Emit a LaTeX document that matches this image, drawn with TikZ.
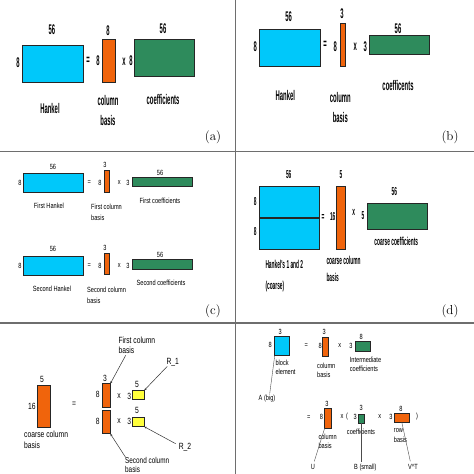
\documentclass[tikz,border=0pt]{standalone}
\usepackage{fontspec}
\newfontfamily\nara[FakeStretch=0.42]{Liberation Sans}
\newfontfamily\narc[FakeStretch=0.75]{Liberation Sans}
\usetikzlibrary{fit,arrows.meta}
\definecolor{hcyan}{RGB}{0,200,250}
\definecolor{horange}{RGB}{240,100,12}
\definecolor{hgreen}{RGB}{46,139,92}
\definecolor{hyellow}{RGB}{255,255,60}
\definecolor{divgray}{RGB}{110,110,110}
\newcommand{\hbx}[6]{\node[#2, fit={(#3,#4) (#5,#6)}] (#1) {};}
\begin{document}
\begin{tikzpicture}[x=1pt,y=-1pt,
  bx/.style={draw=black!85, line width=0.8pt, inner sep=0pt, outer sep=0pt},
  hk/.style={bx, fill=hcyan},
  cb/.style={bx, fill=horange},
  cf/.style={bx, fill=hgreen},
  rr/.style={bx, fill=hyellow},
  ta/.style={inner sep=0pt, font=\nara\bfseries\fontsize{14}{20}\selectfont},
  tal/.style={inner sep=0pt, font=\nara\bfseries\fontsize{14}{20}\selectfont},
  tc/.style={inner sep=0pt, font=\narc\fontsize{7.5}{11}\selectfont},
  td/.style={inner sep=0pt, font=\nara\bfseries\fontsize{11.5}{17}\selectfont},
  te/.style={inner sep=0pt, font=\narc\fontsize{9}{10.5}\selectfont},
  tf/.style={inner sep=0pt, font=\narc\fontsize{7.5}{9.5}\selectfont},
  tag/.style={inner sep=0pt, font=\fontsize{13}{13}\selectfont},
  lead/.style={draw=black!80, line width=0.5pt, -{Stealth[length=2.5pt,width=2pt]}},
  leadf/.style={draw=black!70, line width=0.4pt},
  divider/.style={draw=divgray, line width=1.1pt}
]
\useasboundingbox (0,0) rectangle (474,474);
\fill[white] (0,0) rectangle (474,474);
% dividers
\coordinate (vt) at (235.7,0); \coordinate (vb) at (235.7,474);
\coordinate (h1l) at (0,151.3); \coordinate (h1r) at (474,151.3);
\coordinate (h2l) at (0,323); \coordinate (h2r) at (474,323);
\draw[divider] (vt) -- (vb);
\draw[divider] (h1l) -- (h1r);
\draw[divider] (h2l) -- (h2r);

% ---------------- (a)
\hbx{aH}{hk}{22.7}{45.3}{83}{82.3}
\hbx{aC}{cb}{102.3}{39}{115.7}{82.7}
\hbx{aF}{cf}{134.7}{39}{194.3}{76.7}
\node[ta] (aN1) at (52,30) {56};
\node[ta] (aM1) at (18,63) {8};
\node[ta] (aEq) at (88,61) {=};
\node[ta] (aM2) at (98,61) {8};
\node[ta] (aN2) at (108,31) {8};
\node[ta] (aX) at (124,62) {x};
\node[ta] (aM3) at (131,61) {8};
\node[ta] (aN3) at (163,29) {56};
\node[tal] (aL1) at (50,108) {Hankel};
\node[tal, align=center] (aL2) at (108,110) {column\\basis};
\node[tal] (aL3) at (163,99) {coefficients};
\node[tag] (aT) at (213,137) {(a)};

% ---------------- (b)
\hbx{bH}{hk}{259.7}{29}{320}{66.7}
\hbx{bC}{cb}{340.7}{23.3}{345.7}{66.7}
\hbx{bF}{cf}{369.7}{35.3}{429.7}{54.3}
\node[ta] (bN1) at (288.7,17) {56};
\node[ta] (bM1) at (255.3,47) {8};
\node[ta] (bEq) at (325,45) {=};
\node[ta] (bM2) at (335.3,47) {8};
\node[ta] (bN2) at (342,14) {3};
\node[ta] (bX) at (355.3,47) {x};
\node[ta] (bM3) at (365.3,47) {3};
\node[ta] (bN3) at (398,29) {56};
\node[tal] (bL1) at (285.3,95) {Hankel};
\node[tal, align=center] (bL2) at (340.3,107) {column\\basis};
\node[tal] (bL3) at (398,85) {coefficents};
\node[tag] (bT) at (450,137) {(b)};

% ---------------- (c) top
\hbx{cH1}{hk}{23.3}{173.7}{83.7}{192}
\hbx{cC1}{cb}{104}{170.7}{109.3}{192}
\hbx{cF1}{cf}{132.3}{177.3}{192.3}{186}
\node[tc] (cN1) at (53,166.7) {56};
\node[tc] (cM1) at (20,183) {8};
\node[tc] (cEq1) at (89.3,183) {=};
\node[tc] (cM2) at (100,183) {8};
\node[tc] (cN2) at (105,164.5) {3};
\node[tc] (cX1) at (119.3,183) {x};
\node[tc] (cM3) at (128,183) {3};
\node[tc] (cN3) at (160,173.3) {56};
\node[tc] (cL1) at (49,206) {First Hankel};
\node[tc, align=left, anchor=west] (cL2) at (91,212.8) {First column\\basis};
\node[tc] (cL3) at (160,200.7) {First coefficients};
% (c) bottom
\hbx{cH2}{hk}{23.3}{256.7}{83.7}{275}
\hbx{cC2}{cb}{104}{253.3}{109.3}{274.7}
\hbx{cF2}{cf}{132.3}{259.3}{192.3}{269}
\node[tc] (cN4) at (53,249.3) {56};
\node[tc] (cM4) at (20,266) {8};
\node[tc] (cEq2) at (89.3,266) {=};
\node[tc] (cM5) at (100,266) {8};
\node[tc] (cN5) at (105,247.7) {3};
\node[tc] (cX2) at (119.3,266) {x};
\node[tc] (cM6) at (128,266) {3};
\node[tc] (cN6) at (160,255) {56};
\node[tc] (cL4) at (52,288.7) {Second Hankel};
\node[tc, align=left, anchor=west] (cL5) at (87,295.5) {Second column\\basis};
\node[tc] (cL6) at (161,283.3) {Second coefficients};
\node[tag] (cT) at (213,311.7) {(c)};

% ---------------- (d)
\hbx{dH1}{hk}{259}{186.7}{319}{217.3}
\hbx{dH2}{hk}{259}{218.7}{319}{249.3}
\hbx{dC}{cb}{336.3}{186.7}{345.7}{249.3}
\hbx{dF}{cf}{367}{203.7}{427}{229}
\node[td] (dN1) at (288.7,175) {56};
\node[td] (dM1) at (255.3,201.7) {8};
\node[td] (dM2) at (255.3,231.7) {8};
\node[td] (dEq) at (323,217.3) {=};
\node[td] (dM3) at (332.7,217) {16};
\node[td] (dN2) at (341,175) {5};
\node[td] (dX) at (353.7,212.3) {x};
\node[td] (dM4) at (363,215.7) {5};
\node[td] (dN3) at (394.3,191.7) {56};
\node[td] (dL3) at (396.3,241.7) {coarse coefficients};
\node[td, align=left, anchor=west] (dL2) at (326.3,269.3) {coarse column\\basis};
\node[td, align=left, anchor=west, font=\nara\bfseries\fontsize{11.5}{20.7}\selectfont] (dL1) at (265.3,276.3) {Hankel's 1 and 2\\(coarse)};
\node[tag] (dT) at (450,311.7) {(d)};

% ---------------- (e)
\hbx{eB}{cb}{37.7}{385.7}{50.7}{427}
\node[te] (eN1) at (42,379) {5};
\node[te] (eM1) at (32,406.3) {16};
\node[te, align=left, anchor=west] (eL1) at (24,439.7) {coarse column\\basis};
\node[te] (eEq) at (74,404.7) {=};
\hbx{eC1}{cb}{102.3}{383.7}{110.3}{407}
\hbx{eC2}{cb}{102.3}{410.3}{110.3}{433.7}
\node[te] (eN2) at (105,378.7) {3};
\node[te] (eM2) at (97.7,394.7) {8};
\node[te] (eM3) at (97.7,421.3) {8};
\node[te] (eX1) at (119,396.3) {x};
\node[te] (eX2) at (119,421.3) {x};
\node[te] (eM4) at (129.3,396) {3};
\node[te] (eM5) at (129.3,421) {3};
\hbx{eR1}{rr}{132.3}{390.3}{144.3}{399.7}
\hbx{eR2}{rr}{132.3}{417}{144.3}{426.7}
\node[te] (eN3) at (137,384) {5};
\node[te] (eN4) at (137,410.3) {5};
\node[te, align=left, anchor=west] (eL2) at (118.3,345.5) {First column\\basis};
\node[te] (eL3) at (172.7,362.3) {R\_1};
\node[te] (eL4) at (185,447.3) {R\_2};
\node[te, align=left, anchor=west, font=\narc\fontsize{8.5}{9}\selectfont] (eL5) at (125,464.5) {Second column\\basis};
\coordinate (eS2) at (125.7,355.3);
\coordinate (eS3) at (167.3,366.3);
\coordinate (eS4) at (175.7,443.7);
\coordinate (eS5) at (125.7,457.5);
\draw[lead] (eS2) -- (eC1.north east);
\draw[lead] (eS3) -- (eR1.north east);
\draw[lead] (eS4) -- (eR2.south east);
\draw[lead] (eS5) -- (eC2.south east);

% ---------------- (f)
\hbx{fA}{hk}{274.7}{336.3}{289.3}{355.7}
\hbx{fC}{cb}{322.7}{337}{328.7}{356.3}
\hbx{fF}{cf}{355.7}{341.3}{370.3}{351.3}
\node[tf] (fN1) at (280.3,331.5) {3};
\node[tf] (fM1) at (270.3,345.3) {8};
\node[tf] (fEq1) at (306.3,346) {=};
\node[tf] (fN2) at (324.3,331.5) {3};
\node[tf] (fM2) at (320.3,346) {8};
\node[tf] (fX1) at (339.7,346) {x};
\node[tf] (fM3) at (351,346) {3};
\node[tf] (fN3) at (361.3,336.5) {8};
\node[tf, align=left, anchor=west] (fL1) at (275.3,367.5) {block\\element};
\node[tf, align=left, anchor=west] (fL2) at (317,370.3) {column\\basis};
\node[tf, align=left, anchor=west] (fL3) at (349.7,364.2) {Intermediate\\coefficients};
\node[tf] (fL4) at (267,399) {A (big)};
\coordinate (fS4) at (269.7,393.7);
\draw[leadf] (fS4) -- (fA.south west);
% row 2
\node[tf] (fEq2) at (308.7,417.3) {=};
\hbx{fU}{cb}{324.7}{408.3}{331.3}{428}
\node[tf] (fM4) at (321.5,417) {8};
\node[tf] (fN4) at (327,403.5) {3};
\node[tf] (fX2) at (342,417) {x};
\node[tf] (fP1) at (347,417) {(};
\node[tf] (fM5) at (355.2,417) {3};
\hbx{fB}{cf}{358.3}{414}{364.3}{423}
\node[tf] (fN5) at (361.3,408.2) {3};
\node[tf] (fX3) at (379.7,417) {x};
\node[tf] (fM6) at (391,417) {3};
\hbx{fV}{cb}{394.3}{413.7}{409.3}{422.3}
\node[tf] (fN6) at (401,408.5) {8};
\node[tf] (fP2) at (417,417) {)};
\node[tf, align=left, anchor=west] (fL5) at (318.3,441.2) {column\\basis};
\node[tf] (fL6) at (361,432.3) {coefficients};
\node[tf, align=left, anchor=west] (fL7) at (393.7,435.3) {row\\basis};
\node[tf] (fL8) at (313,467.3) {U};
\node[tf] (fL9) at (365.3,467.3) {B (small)};
\node[tf] (fL10) at (413,467.3) {V\textasciicircum T};
\coordinate (fS8) at (314.3,461.3);
\coordinate (fS9) at (361.3,462);
\coordinate (fS10) at (410.3,461.3);
\draw[leadf] (fS8) -- (fU.south west);
\draw[leadf] (fS9) -- (fB.south);
\draw[leadf] (fS10) -- (fV.south);
\end{tikzpicture}
\end{document}
